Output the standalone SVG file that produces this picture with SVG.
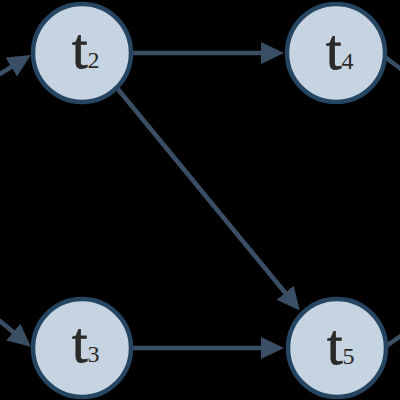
<svg xmlns="http://www.w3.org/2000/svg" width="400" height="400" viewBox="0 0 400 400">
<style>
.node circle{fill:#c5d4e0;stroke:#254560;stroke-width:4.5}
.node text{font-family:"Liberation Serif","Times New Roman",serif;fill:#2a2a2a}
.node .m{font-size:56px;stroke:#2a2a2a;stroke-width:0.8}
.node .s{font-size:24px}
.edge{stroke:#3a4e64;stroke-width:4.5;fill:none}
</style>
<defs>
<marker id="arr" markerUnits="userSpaceOnUse" markerWidth="24" markerHeight="24" refX="12" refY="11" orient="auto">
<path d="M0,0 L23,11 L0,22 z" fill="#3a4e64"/>
</marker>
</defs>
<rect width="400" height="400" fill="#000"/>
<g id="connectors">
<line class="edge" x1="-5" y1="77" x2="21.5" y2="60.8" marker-end="url(#arr)"/>
<line class="edge" x1="-5" y1="317" x2="22.5" y2="339.8" marker-end="url(#arr)"/>
<line class="edge" x1="133" y1="53" x2="273" y2="53" marker-end="url(#arr)"/>
<line class="edge" x1="133" y1="348" x2="273" y2="348" marker-end="url(#arr)"/>
<line class="edge" x1="117" y1="88" x2="292.8" y2="302" marker-end="url(#arr)"/>
<line class="edge" x1="385" y1="57" x2="405" y2="72"/>
<line class="edge" x1="385" y1="347" x2="405" y2="333"/>
</g>
<g id="t2" class="node"><circle cx="82" cy="53" r="49"/><text x="72" y="68"><tspan class="m">t</tspan><tspan class="s">2</tspan></text></g>
<g id="t4" class="node"><circle cx="336" cy="53" r="49"/><text x="326" y="69"><tspan class="m">t</tspan><tspan class="s">4</tspan></text></g>
<g id="t3" class="node"><circle cx="82" cy="348" r="49"/><text x="72" y="362"><tspan class="m">t</tspan><tspan class="s">3</tspan></text></g>
<g id="t5" class="node"><circle cx="337" cy="348" r="49"/><text x="327" y="364"><tspan class="m">t</tspan><tspan class="s">5</tspan></text></g>
</svg>
